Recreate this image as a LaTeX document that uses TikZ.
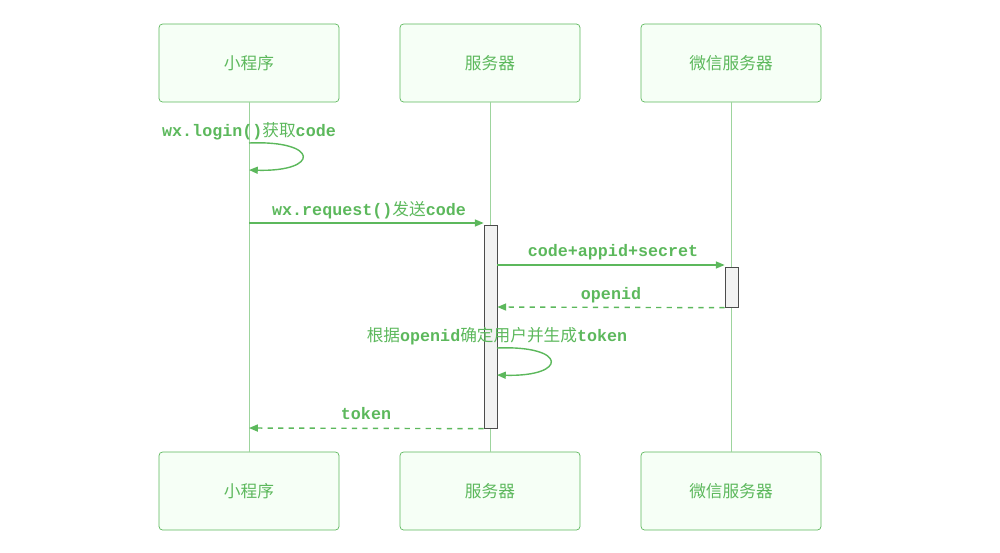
\documentclass[tikz,border=0pt]{standalone}
\usepackage{fontspec}
\setmainfont{Liberation Mono}
\newfontfamily\cjk{Noto Sans CJK SC}
\usetikzlibrary{positioning, arrows.meta}
\definecolor{lgreen}{HTML}{5CB85C}
\definecolor{lfill}{HTML}{F6FFF6}
\tikzset{
  actor/.style={draw=lgreen, fill=lfill, rounded corners=2pt, minimum width=3.6cm, minimum height=1.56cm, font=\cjk\fontsize{9.5}{11}\selectfont, text=lgreen},
  life/.style={draw=lgreen!60, line width=0.4pt},
  act/.style={draw=black!70, fill=black!5, minimum width=0.26cm, inner sep=0pt},
  msg/.style={draw=lgreen, line width=0.8pt, -{Triangle[length=5pt,width=4pt]}},
  ret/.style={msg, dashed},
  lbl/.style={text=lgreen, font=\bfseries\fontsize{9.5}{11}\selectfont}
}
\newcommand{\zh}[1]{{\cjk\mdseries #1}}
\begin{document}
\begin{tikzpicture}[x=0.02cm, y=-0.02cm]
\useasboundingbox (0,0) rectangle (1000,552);
% actors
\node[actor] (app) at (249,63) {小程序};
\node[actor] (srv) at (490,63) {服务器};
\node[actor] (wx) at (731,63) {微信服务器};
\node[actor] (app2) at (249,491) {小程序};
\node[actor] (srv2) at (490,491) {服务器};
\node[actor] (wx2) at (731,491) {微信服务器};
% lifelines
\draw[life] (app) -- (app2);
\draw[life] (srv) -- (srv2);
\draw[life] (wx) -- (wx2);
% activations
\node[act, minimum height=4.06cm, anchor=north] (asrv) at (490.5,225) {};
\node[act, minimum height=0.8cm, anchor=north] (awx) at (731.5,267) {};
% messages
\coordinate (l1) at (249,143);
\coordinate (l2) at (249,170);
\draw[msg] (l1) .. controls (320,140) and (320,172) .. (l2);
\node[lbl] at (249,131) {wx.login()\zh{获取}code};
\coordinate (r1) at (249,223);
\draw[msg] (r1) -- (asrv.north west |- r1);
\node[lbl] at (369,210) {wx.request()\zh{发送}code};
\coordinate (c1) at (497,265);
\draw[msg] (asrv.east |- c1) -- (awx.north west |- c1);
\node[lbl] at (613,252) {code+appid+secret};
\coordinate (o1) at (725,307);
\draw[ret] (awx.south west) -- (asrv.east |- o1);
\node[lbl] at (611,295) {openid};
\coordinate (s1) at (497,348);
\coordinate (s2) at (497,375);
\draw[msg] (s1) .. controls (568,345) and (568,377) .. (s2);
\node[lbl] at (497,336) {\zh{根据}openid\zh{确定用户并生成}token};
\coordinate (t1) at (249,428);
\draw[ret] (asrv.south west) -- (t1);
\node[lbl] at (366,414) {token};
\end{tikzpicture}
\end{document}
